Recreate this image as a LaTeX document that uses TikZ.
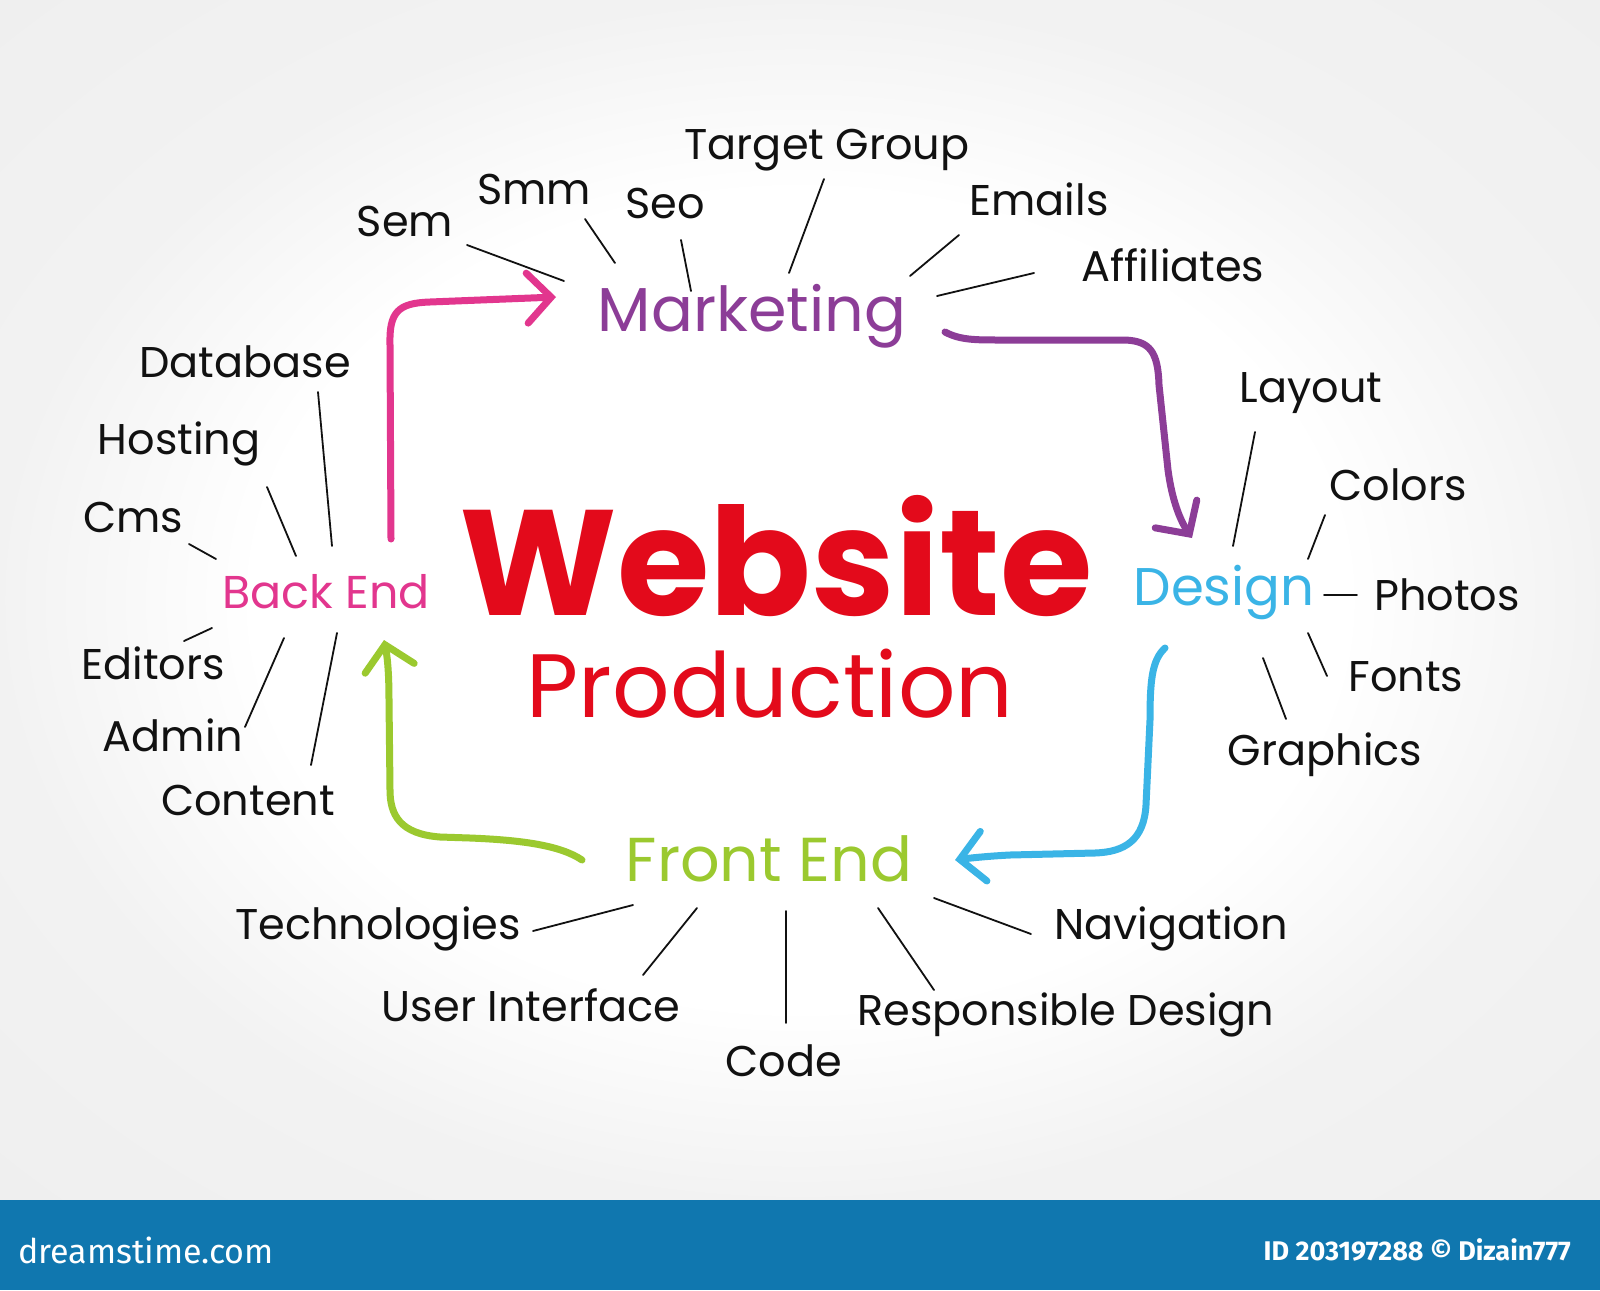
\documentclass[tikz,border=0pt]{standalone}
\usepackage{fontspec}
\setmainfont{Poppins}
\newfontfamily\barfont{Fira Sans}
\usetikzlibrary{arrows.meta}
\definecolor{cpink}{HTML}{E2368E}
\definecolor{cpurple}{HTML}{8C3D97}
\definecolor{cblue}{HTML}{3AB4E6}
\definecolor{cgreen}{HTML}{9BC92F}
\definecolor{cred}{HTML}{E30A1B}
\definecolor{cbar}{HTML}{1077AF}
\definecolor{ctext}{HTML}{111111}
\pgfdeclareradialshading{bgvig}{\pgfpoint{0bp}{0bp}}{color(0bp)=(white); color(17bp)=(white); color(25bp)=(black!5); color(50bp)=(black!8)}
\begin{document}
\begin{tikzpicture}[x=1pt,y=-1pt,
  lbl/.style={text=ctext, font=\fontsize{43}{43}\selectfont, inner sep=0pt},
  hub/.style={inner sep=0pt},
  spoke/.style={draw=ctext, line width=1.8pt, line cap=round},
  flow/.style={line width=7pt, line cap=round, line join=round,
    -{Straight Barb[length=24pt,width=50pt,line cap=round]}},
]
\useasboundingbox (0,0) rectangle (1600,1290);
% background
\shade[shading=bgvig] (0,0) rectangle (1600,1200);
\fill[cbar] (0,1200) rectangle (1600,1290);
\node[hub, text=white, font=\barfont\fontsize{34}{34}\selectfont, anchor=west] (brand) at (18,1250) {dreamstime.com};
\node[hub, text=white, font=\barfont\bfseries\fontsize{27}{27}\selectfont, anchor=east] (imgid) at (1571,1250) {ID 203197288 © Dizain777};

% title
\node[hub, text=cred, font=\bfseries\fontsize{150}{150}\selectfont] (title) at (776,556) {Website};
\node[hub, text=cred, font=\fontsize{90}{90}\selectfont] (sub) at (770,684) {Production};

% hubs
\node[hub, text=cpurple, font=\fontsize{62}{62}\selectfont] (mkt) at (752,316) {Marketing};
\node[hub, text=cblue, font=\fontsize{53}{53}\selectfont] (des) at (1224,592) {Design};
\node[hub, text=cgreen, font=\fontsize{62}{62}\selectfont] (fe) at (769,859) {Front End};
\node[hub, text=cpink, font=\fontsize{46}{46}\selectfont] (be) at (326,592) {Back End};

% marketing labels
\node[lbl] (sem) at (405,222) {Sem};
\node[lbl] (smm) at (534,189) {Smm};
\node[lbl] (seo) at (665,204) {Seo};
\node[lbl] (tg) at (827,150) {Target Group};
\node[lbl] (em) at (1039,199) {Emails};
\node[lbl] (aff) at (1173,265) {Affiliates};
% back end labels
\node[lbl] (db) at (245,362) {Database};
\node[lbl] (host) at (179,444) {Hosting};
\node[lbl] (cms) at (133,518) {Cms};
\node[lbl] (ed) at (153,663) {Editors};
\node[lbl] (adm) at (173,735) {Admin};
\node[lbl] (cont) at (248,801) {Content};
% design labels
\node[lbl] (lay) at (1311,393) {Layout};
\node[lbl] (col) at (1398,485) {Colors};
\node[lbl] (pho) at (1447,595) {Photos};
\node[lbl] (fon) at (1406,677) {Fonts};
\node[lbl] (gra) at (1325,755) {Graphics};
% front end labels
\node[lbl] (tech) at (378,929) {Technologies};
\node[lbl] (ui) at (531,1005) {User Interface};
\node[lbl] (code) at (784,1061) {Code};
\node[lbl] (resp) at (1066,1015) {Responsible Design};
\node[lbl] (nav) at (1171,929) {Navigation};

% spoke end points
\coordinate (a1) at (467,245); \coordinate (b1) at (564,281);
\coordinate (a2) at (585,219); \coordinate (b2) at (615,263);
\coordinate (a3) at (681,240); \coordinate (b3) at (691,291);
\coordinate (a4) at (824,179); \coordinate (b4) at (789,273);
\coordinate (a5) at (959,235); \coordinate (b5) at (910,276);
\coordinate (a6) at (1034,273); \coordinate (b6) at (937,296);

\coordinate (c1) at (318,392); \coordinate (d1) at (332,546);
\coordinate (c2) at (267,487); \coordinate (d2) at (296,556);
\coordinate (c3) at (189,544); \coordinate (d3) at (216,559);
\coordinate (c4) at (184,641); \coordinate (d4) at (212,628);
\coordinate (c5) at (245,727); \coordinate (d5) at (284,638);
\coordinate (c6) at (311,765); \coordinate (d6) at (337,633);

\coordinate (e1) at (1255,432); \coordinate (f1) at (1233,546);
\coordinate (e2) at (1325,515); \coordinate (f2) at (1308,559);
\coordinate (e3) at (1324,595); \coordinate (f3) at (1357,595);
\coordinate (e4) at (1308,633); \coordinate (f4) at (1327,676);
\coordinate (e5) at (1263,658); \coordinate (f5) at (1286,719);

\coordinate (g1) at (533,931); \coordinate (h1) at (633,905);
\coordinate (g2) at (643,975); \coordinate (h2) at (697,908);
\coordinate (g3) at (786,911); \coordinate (h3) at (786,1023);
\coordinate (g4) at (878,908); \coordinate (h4) at (934,990);
\coordinate (g5) at (934,898); \coordinate (h5) at (1031,934);

\foreach \p/\q in {a1/b1,a2/b2,a3/b3,a4/b4,a5/b5,a6/b6,
                   c1/d1,c2/d2,c3/d3,c4/d4,c5/d5,c6/d6,
                   e1/f1,e2/f2,e3/f3,e4/f4,e5/f5,
                   g1/h1,g2/h2,g3/h3,g4/h4,g5/h5}
  \draw[spoke] (\p) -- (\q);

% flow arrows
\coordinate (pk0) at (391,539); \coordinate (pk1) at (556,297);
\coordinate (pu0) at (945,332); \coordinate (pu1) at (1192,538);
\coordinate (bl0) at (1165,648); \coordinate (bl1) at (955,860);
\coordinate (gr0) at (582,860); \coordinate (gr1) at (384,640);

\draw[flow, cpink] (pk0) -- (390,345) .. controls (389,312) and (398,303) .. (430,302) -- (pk1);
\draw[flow, cpurple] (pu0) .. controls (960,340) and (975,340) .. (1000,340)
  -- (1125,340) .. controls (1150,341) and (1158,352) .. (1159,385)
  -- (1168,470) .. controls (1172,500) and (1180,520) .. (pu1);
\draw[flow, cblue] (bl0) .. controls (1152,660) and (1150,680) .. (1150,720)
  -- (1146,805) .. controls (1144,840) and (1125,852) .. (1095,853)
  -- (1010,855) .. controls (990,856) and (970,858) .. (bl1);
\draw[flow, cgreen] (gr0) .. controls (560,845) and (520,840) .. (470,838)
  -- (440,837) .. controls (400,834) and (390,815) .. (390,790)
  -- (389,700) .. controls (389,670) and (387,655) .. (gr1);
\end{tikzpicture}
\end{document}
